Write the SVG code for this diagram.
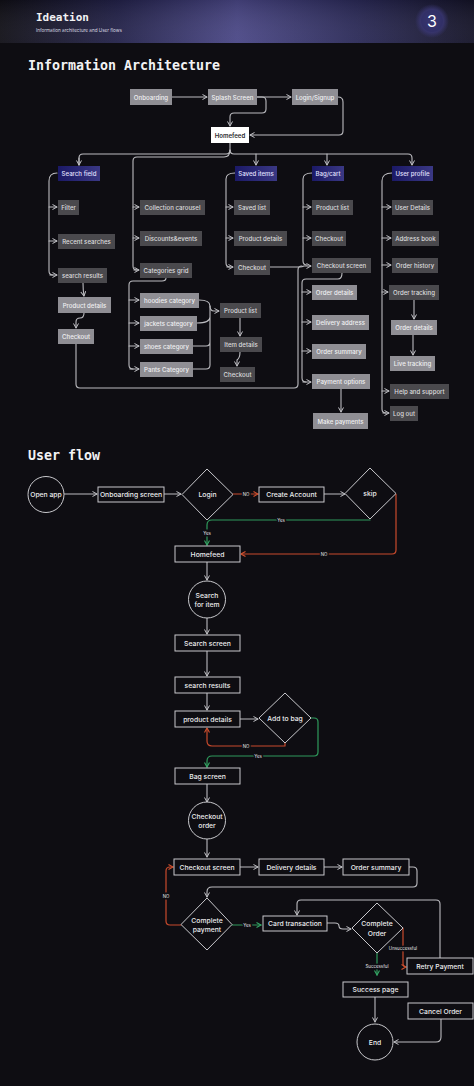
<svg xmlns="http://www.w3.org/2000/svg" width="474" height="1086" viewBox="0 0 474 1086">
<defs>
<linearGradient id="hdr" x1="0" y1="0" x2="1" y2="0">
<stop offset="0" stop-color="#100f16"/>
<stop offset="0.25" stop-color="#23224a"/>
<stop offset="0.5" stop-color="#4a4786"/>
<stop offset="0.75" stop-color="#2b2a58"/>
<stop offset="1" stop-color="#141327"/>
</linearGradient>
<linearGradient id="hdv" x1="0" y1="0" x2="0" y2="1">
<stop offset="0" stop-color="#000" stop-opacity="0.15"/>
<stop offset="1" stop-color="#fff" stop-opacity="0.05"/>
</linearGradient>
<linearGradient id="hd" x1="0" y1="0" x2="1" y2="0">
<stop offset="0" stop-color="#1b1966"/>
<stop offset="1" stop-color="#3a3884"/>
</linearGradient>
<radialGradient id="glow">
<stop offset="0" stop-color="#4e4a96"/>
<stop offset="0.6" stop-color="#3a3774"/>
<stop offset="1" stop-color="#3a3774" stop-opacity="0"/>
</radialGradient>
<marker id="ag" viewBox="0 0 6 6" refX="5.5" refY="3" markerWidth="6" markerHeight="6" markerUnits="userSpaceOnUse" orient="auto">
<path d="M1,0.5 L5.5,3 L1,5.5" fill="none" stroke="#c2c2c6" stroke-width="1"/>
</marker>
<marker id="ar" viewBox="0 0 6 6" refX="5.5" refY="3" markerWidth="6" markerHeight="6" markerUnits="userSpaceOnUse" orient="auto">
<path d="M1,0.5 L5.5,3 L1,5.5" fill="none" stroke="#d2512f" stroke-width="1.1"/>
</marker>
<marker id="an" viewBox="0 0 6 6" refX="5.5" refY="3" markerWidth="6" markerHeight="6" markerUnits="userSpaceOnUse" orient="auto">
<path d="M1,0.5 L5.5,3 L1,5.5" fill="none" stroke="#35a866" stroke-width="1.1"/>
</marker>
<style>
.title{font-family:"DejaVu Sans Mono","Liberation Mono",monospace;font-weight:bold;fill:#f2f2f4}
.t{font-family:Inter,"Noto Sans",sans-serif;font-size:6.1px;font-weight:500;text-anchor:middle;dominant-baseline:central}
.u{font-family:Inter,"Noto Sans",sans-serif;font-size:6.8px;font-weight:500;text-anchor:middle;dominant-baseline:central;fill:#ececee}
.dk rect{fill:#4a494d}
.dk text{fill:#dcdcde}
.lt rect{fill:#8f8e94}
.lt text{fill:#f0f0f2}
.hd rect{fill:url(#hd)}
.hd text{fill:#e2e0ff}
.wh rect{fill:#ffffff}
.wh text{fill:#2a2a2e;font-weight:600}
.c{fill:none;stroke:#bcbcc0;stroke-width:1.1;stroke-linecap:round;stroke-linejoin:round}
.ca{marker-end:url(#ag)}
.r{fill:none;stroke:#c84a2c;stroke-width:1.2;stroke-linecap:round;stroke-linejoin:round;marker-end:url(#ar)}
.g{fill:none;stroke:#2f9a5c;stroke-width:1.2;stroke-linecap:round;stroke-linejoin:round;marker-end:url(#an)}
.box rect,.box circle,.box polygon{fill:#0e0d12;stroke:#c8c8cc;stroke-width:1}
.lbl{font-family:Inter,"Noto Sans",sans-serif;font-size:4.4px;fill:#e6e6e8;text-anchor:middle;dominant-baseline:central;stroke:#0e0d12;stroke-width:3px;paint-order:stroke}
</style>
</defs>
<rect width="474" height="1086" fill="#0e0d12"/>
<g id="header">
<rect x="0" y="0" width="474" height="43" fill="url(#hdr)"/>
<rect x="0" y="0" width="474" height="43" fill="url(#hdv)"/>
<text x="36" y="21" class="title" font-size="11">Ideation</text>
<text x="36" y="32" font-family="Inter,'Noto Sans',sans-serif" font-size="4.6" fill="#d8d8e0">Information architecture and User flows</text>
<circle cx="432" cy="21" r="17" fill="url(#glow)"/>
<circle cx="432" cy="21" r="11" fill="#2f2d62" opacity="0.7"/>
<text x="432" y="21" font-family="Inter,'Noto Sans',sans-serif" font-size="16" fill="#ffffff" text-anchor="middle" dominant-baseline="central">3</text>
</g>
<text x="28" y="70" class="title" font-size="13.3">Information Architecture</text>
<text x="28" y="460" class="title" font-size="13.3">User flow</text>

<g id="ia-connectors">
<path class="c ca" d="M172,97 H207"/>
<path class="c ca" d="M257,97 H291"/>
<path class="c ca" d="M257,97 H262 Q266,97 266,101 V109 Q266,113 262,113 H234 Q230,113 230,117 V126"/>
<path class="c ca" d="M338,97 Q343,97 343,102 V131 Q343,135 339,135 H250"/>
<path class="c" d="M230,143 V150 Q230,154 226,154 H83 Q79,154 79,158 V165"/>
<path class="c ca" d="M79,158 V165"/>
<path class="c ca" d="M230,150 Q230,154 234,154 H408 Q412,154 412,158 V165"/>
<path class="c ca" d="M256,154 V165"/>
<path class="c ca" d="M327,154 V165"/>
<path class="c" d="M230,150 Q230,157 224,157 H137 Q133,157 133,161 V266 Q133,270 137,270"/>
<path class="c ca" d="M133,207 H139"/>
<path class="c ca" d="M133,238 H139"/>
<path class="c ca" d="M134,270 H139"/>
<path class="c" d="M57,173 Q49,173 49,181 V271 Q49,275 53,275"/>
<path class="c ca" d="M49,207 H57"/>
<path class="c ca" d="M49,241 H57"/>
<path class="c ca" d="M50,275 H57"/>
<path class="c ca" d="M83,283 Q83,290 84,296"/>
<path class="c ca" d="M84,313 Q84,318 80,318 Q76,318 76,322 V328"/>
<path class="c" d="M76,344 V384 Q76,388 80,388 H294 Q298,388 298,384 V270 Q298,266 302,266"/>
<path class="c" d="M166,278 Q166,281 162,281 H133 Q129,281 129,285 V365 Q129,369 133,369"/>
<path class="c ca" d="M129,300 H139"/>
<path class="c ca" d="M129,323 H139"/>
<path class="c ca" d="M129,346 H139"/>
<path class="c ca" d="M130,369 H139"/>
<path class="c" d="M199,300 Q210,300 210,306 M197,323 Q210,323 210,317 M193,346 H206 Q210,346 210,342 V306 M193,369 H206 Q210,369 210,365 V342"/>
<path class="c ca" d="M210,306 Q210,311 214,311 H219"/>
<path class="c ca" d="M240,318 V336"/>
<path class="c ca" d="M240,352 Q240,358 237,360 V366"/>
<path class="c" d="M235,173 Q226,173 226,179 V263 Q226,267 230,267"/>
<path class="c ca" d="M226,207 H233"/>
<path class="c ca" d="M226,238 H233"/>
<path class="c ca" d="M227,267 H233"/>
<path class="c ca" d="M270,267 H300 Q302,267 304,266 H311"/>
<path class="c" d="M312,173 Q303,173 303,179 V261 Q303,265 307,265"/>
<path class="c ca" d="M303,207 H311"/>
<path class="c ca" d="M303,238 H311"/>
<path class="c" d="M342,273 Q342,279 338,279 H306 Q302,279 302,283 V378 Q302,382 306,382"/>
<path class="c ca" d="M302,292 H311"/>
<path class="c ca" d="M302,322 H311"/>
<path class="c ca" d="M302,351 H311"/>
<path class="c ca" d="M303,382 H311"/>
<path class="c ca" d="M341,389 V412"/>
<path class="c" d="M392,173 Q382,173 382,181 V409 Q382,413 386,413"/>
<path class="c ca" d="M382,207 H391"/>
<path class="c ca" d="M382,238 H391"/>
<path class="c ca" d="M382,265 H391"/>
<path class="c ca" d="M382,292 H388"/>
<path class="c ca" d="M382,391 H389"/>
<path class="c ca" d="M383,413 H389"/>
<path class="c ca" d="M414,300 V319"/>
<path class="c ca" d="M413,335 V355"/>
</g>

<g id="ia-onboarding" class="lt"><rect x="130" y="89" width="42" height="16"/><text class="t" x="151" y="97">Onboarding</text></g>
<g id="ia-splash" class="lt"><rect x="208" y="89" width="49" height="16"/><text class="t" x="232.5" y="97">Splash Screen</text></g>
<g id="ia-login" class="lt"><rect x="292" y="89" width="46" height="16"/><text class="t" x="315" y="97">Login/Signup</text></g>
<g id="ia-homefeed" class="wh"><rect x="211" y="127" width="38" height="16"/><text class="t" x="230" y="135">Homefeed</text></g>
<g id="ia-search-field" class="hd"><rect x="58" y="166" width="42" height="15"/><text class="t" x="79" y="173.5">Search field</text></g>
<g id="ia-saved-items" class="hd"><rect x="235" y="166" width="42" height="15"/><text class="t" x="256" y="173.5">Saved items</text></g>
<g id="ia-bag-cart" class="hd"><rect x="312" y="166" width="32" height="15"/><text class="t" x="328" y="173.5">Bag/cart</text></g>
<g id="ia-user-profile" class="hd"><rect x="392" y="166" width="41" height="15"/><text class="t" x="412.5" y="173.5">User profile</text></g>
<g id="ia-filter" class="dk"><rect x="58" y="200" width="21" height="15"/><text class="t" x="68.5" y="207.5">Filter</text></g>
<g id="ia-recent" class="dk"><rect x="58" y="234" width="57" height="15"/><text class="t" x="86.5" y="241.5">Recent searches</text></g>
<g id="ia-search-results" class="dk"><rect x="58" y="268" width="49" height="15"/><text class="t" x="82.5" y="275.5">search results</text></g>
<g id="ia-sf-product-details" class="lt"><rect x="58" y="297" width="53" height="16"/><text class="t" x="84.5" y="305">Product details</text></g>
<g id="ia-sf-checkout" class="lt"><rect x="58" y="329" width="36" height="15"/><text class="t" x="76" y="336.5">Checkout</text></g>
<g id="ia-collection" class="dk"><rect x="140" y="200" width="65" height="15"/><text class="t" x="172.5" y="207.5">Collection carousel</text></g>
<g id="ia-discounts" class="dk"><rect x="140" y="231" width="62" height="15"/><text class="t" x="171" y="238.5">Discounts&amp;events</text></g>
<g id="ia-categories" class="dk"><rect x="140" y="263" width="52" height="15"/><text class="t" x="166" y="270.5">Categories grid</text></g>
<g id="ia-hoodies" class="lt"><rect x="140" y="293" width="59" height="15"/><text class="t" x="169.5" y="300.5">hoodies category</text></g>
<g id="ia-jackets" class="lt"><rect x="140" y="316" width="57" height="15"/><text class="t" x="168.5" y="323.5">jackets category</text></g>
<g id="ia-shoes" class="lt"><rect x="140" y="339" width="53" height="15"/><text class="t" x="166.5" y="346.5">shoes category</text></g>
<g id="ia-pants" class="lt"><rect x="140" y="362" width="53" height="15"/><text class="t" x="166.5" y="369.5">Pants Category</text></g>
<g id="ia-cat-product-list" class="dk"><rect x="220" y="303" width="41" height="15"/><text class="t" x="240.5" y="310.5">Product list</text></g>
<g id="ia-item-details" class="dk"><rect x="220" y="337" width="42" height="15"/><text class="t" x="241" y="344.5">Item details</text></g>
<g id="ia-cat-checkout" class="dk"><rect x="220" y="367" width="35" height="15"/><text class="t" x="237.5" y="374.5">Checkout</text></g>
<g id="ia-saved-list" class="dk"><rect x="234" y="200" width="36" height="15"/><text class="t" x="252" y="207.5">Saved list</text></g>
<g id="ia-saved-product-details" class="dk"><rect x="234" y="231" width="53" height="15"/><text class="t" x="260.5" y="238.5">Product details</text></g>
<g id="ia-saved-checkout" class="dk"><rect x="234" y="260" width="36" height="15"/><text class="t" x="252" y="267.5">Checkout</text></g>
<g id="ia-bag-product-list" class="dk"><rect x="312" y="200" width="41" height="15"/><text class="t" x="332.5" y="207.5">Product list</text></g>
<g id="ia-bag-checkout" class="dk"><rect x="312" y="231" width="34" height="15"/><text class="t" x="329" y="238.5">Checkout</text></g>
<g id="ia-checkout-screen" class="dk"><rect x="312" y="258" width="59" height="15"/><text class="t" x="341.5" y="265.5">Checkout screen</text></g>
<g id="ia-order-details" class="lt"><rect x="312" y="285" width="45" height="15"/><text class="t" x="334.5" y="292.5">Order details</text></g>
<g id="ia-delivery" class="lt"><rect x="312" y="315" width="57" height="15"/><text class="t" x="340.5" y="322.5">Delivery address</text></g>
<g id="ia-order-summary" class="lt"><rect x="312" y="344" width="54" height="15"/><text class="t" x="339" y="351.5">Order summary</text></g>
<g id="ia-payment-options" class="lt"><rect x="312" y="374" width="58" height="15"/><text class="t" x="341" y="381.5">Payment options</text></g>
<g id="ia-make-payments" class="lt"><rect x="313" y="413" width="55" height="16"/><text class="t" x="340.5" y="421">Make payments</text></g>
<g id="ia-user-details" class="dk"><rect x="392" y="200" width="41" height="15"/><text class="t" x="412.5" y="207.5">User Details</text></g>
<g id="ia-address-book" class="dk"><rect x="392" y="231" width="47" height="15"/><text class="t" x="415.5" y="238.5">Address book</text></g>
<g id="ia-order-history" class="dk"><rect x="392" y="258" width="46" height="15"/><text class="t" x="415" y="265.5">Order history</text></g>
<g id="ia-order-tracking" class="dk"><rect x="389" y="285" width="50" height="15"/><text class="t" x="414" y="292.5">Order tracking</text></g>
<g id="ia-up-order-details" class="lt"><rect x="391" y="320" width="46" height="15"/><text class="t" x="414" y="327.5">Order details</text></g>
<g id="ia-live-tracking" class="lt"><rect x="390" y="356" width="45" height="15"/><text class="t" x="412.5" y="363.5">Live tracking</text></g>
<g id="ia-help" class="dk"><rect x="390" y="384" width="59" height="15"/><text class="t" x="419.5" y="391.5">Help and support</text></g>
<g id="ia-logout" class="dk"><rect x="390" y="406" width="28" height="15"/><text class="t" x="404" y="413.5">Log out</text></g>

<g id="uf-connectors">
<path class="c ca" d="M64,494 H97"/>
<path class="c ca" d="M164,494 H181"/>
<path class="r" d="M233,494 H258"/>
<text class="lbl" x="246" y="494">NO</text>
<path class="c ca" d="M324,494 H345"/>
<path class="g" d="M370,520 H212 Q207,520 207,525 V545"/>
<text class="lbl" x="281" y="520">Yes</text>
<text class="lbl" x="207" y="533">Yes</text>
<path class="r" d="M396,494 V550 Q396,554 392,554 H241"/>
<text class="lbl" x="324" y="554">NO</text>
<path class="c ca" d="M207,562 V580"/>
<path class="c ca" d="M207,618 V634"/>
<path class="c ca" d="M207,651 V676"/>
<path class="c ca" d="M207,693 V710"/>
<path class="c ca" d="M240,719 H258"/>
<path class="r" d="M285,743 V746 H212 Q207,746 207,741 V728"/>
<text class="lbl" x="246" y="746">NO</text>
<path class="g" d="M311,718 H314 Q318,718 318,722 V752 Q318,756 314,756 H212 Q207,756 207,761 V767"/>
<text class="lbl" x="258" y="756">Yes</text>
<path class="c ca" d="M207,784 V802"/>
<path class="c ca" d="M207,839 V857"/>
<path class="c ca" d="M240,867 H258"/>
<path class="c ca" d="M324,867 H342"/>
<path class="c ca" d="M409,867 H413 Q417,867 417,871 V883 Q417,887 413,887 H212 Q207,887 207,892 V897"/>
<path class="r" d="M181,925 H170 Q166,925 166,921 V871 Q166,867 170,867 H173"/>
<text class="lbl" x="166" y="896">NO</text>
<path class="g" d="M232,925 H261"/>
<text class="lbl" x="247" y="925">Yes</text>
<path class="c ca" d="M327,923 H335 Q339,923 339,926 Q339,929 343,929 H351"/>
<path class="c ca" d="M440,958 V904 Q440,900 436,900 H301 Q297,900 297,904 V915"/>
<path class="r" d="M403,928 V963 Q403,967 406,967"/>
<text class="lbl" x="403" y="948" font-size="3.8">Unsuccessful</text>
<path class="g" d="M377,953 V975"/>
<text class="lbl" x="377" y="966" font-size="3.8">Successful</text>
<path class="c ca" d="M375,997 V1022"/>
<path class="c ca" d="M441,1019 V1037 Q441,1042 436,1042 H394"/>
</g>

<g id="uf-open-app" class="box"><circle cx="46" cy="494.5" r="18"/><text class="u" x="46" y="494.5">Open app</text></g>
<g id="uf-onboarding" class="box"><rect x="98" y="487" width="66" height="15"/><text class="u" x="131" y="494.5">Onboarding screen</text></g>
<g id="uf-login" class="box"><polygon points="207,469 233,494.5 207,520 182,494.5"/><text class="u" x="207.5" y="494.5">Login</text></g>
<g id="uf-create-account" class="box"><rect x="259" y="487" width="65" height="15"/><text class="u" x="291.5" y="494.5">Create Account</text></g>
<g id="uf-skip" class="box"><polygon points="370,468 396,493.5 370,519 345,493.5"/><text class="u" x="370" y="493.5">skip</text></g>
<g id="uf-homefeed" class="box"><rect x="175" y="546" width="65" height="16"/><text class="u" x="207.5" y="554">Homefeed</text></g>
<g id="uf-search-item" class="box"><circle cx="207" cy="599.5" r="18.5"/><text class="u" x="207" y="595">Search</text><text class="u" x="207" y="604">for item</text></g>
<g id="uf-search-screen" class="box"><rect x="175" y="635" width="65" height="16"/><text class="u" x="207.5" y="643">Search screen</text></g>
<g id="uf-search-results" class="box"><rect x="175" y="677" width="65" height="16"/><text class="u" x="207.5" y="685">search results</text></g>
<g id="uf-product-details" class="box"><rect x="175" y="711" width="65" height="16"/><text class="u" x="207.5" y="719">product details</text></g>
<g id="uf-add-to-bag" class="box"><polygon points="285,693 311,718 285,743 259,718"/><text class="u" x="285" y="718">Add to bag</text></g>
<g id="uf-bag-screen" class="box"><rect x="175" y="768" width="65" height="16"/><text class="u" x="207.5" y="776">Bag screen</text></g>
<g id="uf-checkout-order" class="box"><circle cx="207" cy="820.5" r="18.5"/><text class="u" x="207" y="816.5">Checkout</text><text class="u" x="207" y="825.5">order</text></g>
<g id="uf-checkout-screen" class="box"><rect x="174" y="859" width="66" height="16"/><text class="u" x="207" y="867">Checkout screen</text></g>
<g id="uf-delivery" class="box"><rect x="259" y="859" width="65" height="16"/><text class="u" x="291.5" y="867">Delivery details</text></g>
<g id="uf-order-summary" class="box"><rect x="343" y="859" width="66" height="16"/><text class="u" x="376" y="867">Order summary</text></g>
<g id="uf-complete-payment" class="box"><polygon points="207,898 232,924.5 207,950 181,924.5"/><text class="u" x="207" y="920">Complete</text><text class="u" x="207" y="929">payment</text></g>
<g id="uf-card" class="box"><rect x="263" y="916" width="64" height="15"/><text class="u" x="295" y="923.5">Card transaction</text></g>
<g id="uf-complete-order" class="box"><polygon points="377,903 403,928 377,953 352,928"/><text class="u" x="377" y="923.5">Complete</text><text class="u" x="377" y="933">Order</text></g>
<g id="uf-retry" class="box"><rect x="407" y="958" width="66" height="16"/><text class="u" x="440" y="966">Retry Payment</text></g>
<g id="uf-success" class="box"><rect x="343" y="982" width="65" height="15"/><text class="u" x="375.5" y="989.5">Success page</text></g>
<g id="uf-cancel" class="box"><rect x="408" y="1003" width="65" height="16"/><text class="u" x="440.5" y="1011">Cancel Order</text></g>
<g id="uf-end" class="box"><circle cx="375" cy="1042" r="18"/><text class="u" x="375" y="1042">End</text></g>
</svg>
